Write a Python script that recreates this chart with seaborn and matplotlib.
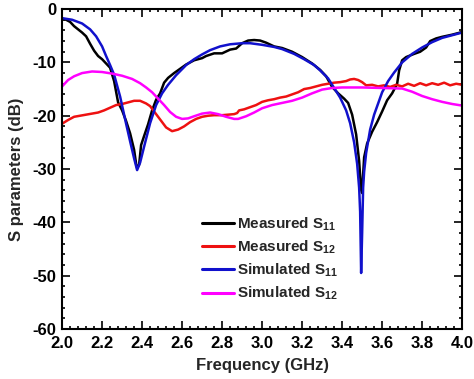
import matplotlib as mpl
import matplotlib.pyplot as plt
import numpy as np
import pandas as pd
import seaborn as sns

sns.set_theme(style="ticks")
plt.rcParams["font.family"] = ["Liberation Sans", "DejaVu Sans"]
plt.rcParams["font.weight"] = "bold"
plt.rcParams["axes.labelweight"] = "bold"
plt.rcParams["axes.unicode_minus"] = False
plt.rcParams["mathtext.fontset"] = "custom"
plt.rcParams["mathtext.rm"] = "Liberation Sans:bold"
plt.rcParams["mathtext.bf"] = "Liberation Sans:bold"
plt.rcParams["mathtext.default"] = "bf"

# measured S11
f_ms11 = [2.00, 2.02, 2.04, 2.06, 2.08, 2.10, 2.12, 2.14, 2.16, 2.18, 2.20, 2.22, 2.24, 2.26,
          2.28, 2.30, 2.32, 2.34, 2.36, 2.37, 2.375, 2.385, 2.395, 2.41, 2.43, 2.45, 2.47,
          2.49, 2.51, 2.53, 2.56, 2.59, 2.62, 2.66, 2.70, 2.72, 2.76, 2.80, 2.84, 2.87, 2.90,
          2.93, 2.96, 2.99, 3.02, 3.06, 3.10, 3.15, 3.20, 3.25, 3.29, 3.32, 3.35, 3.38, 3.41,
          3.43, 3.45, 3.47, 3.485, 3.495, 3.50, 3.505, 3.51, 3.525, 3.55, 3.575, 3.60, 3.625,
          3.65, 3.675, 3.685, 3.70, 3.72, 3.76, 3.79, 3.82, 3.84, 3.87, 3.90, 3.95, 4.00]
s_ms11 = [-1.8, -2.0, -2.4, -3.2, -3.8, -4.4, -5.1, -6.5, -7.8, -8.8, -9.4, -10.2, -11.0, -13.5,
          -17.5, -19.0, -21.0, -23.3, -26.4, -29.0, -29.8, -29.2, -25.5, -23.8, -21.6, -19.0, -17.0,
          -15.8, -13.8, -12.9, -12.0, -11.2, -10.4, -9.6, -9.2, -8.8, -8.3, -8.3, -7.6, -7.4, -6.4,
          -5.9, -5.8, -5.9, -6.3, -7.0, -7.3, -8.0, -9.0, -10.2, -11.4, -12.6, -14.6, -15.8, -16.8,
          -17.6, -19.8, -23.5, -28.5, -33.9, -34.5, -31.0, -27.8, -25.2, -23.0, -21.2, -19.2, -17.1,
          -15.8, -14.0, -11.5, -9.6, -9.0, -8.4, -8.0, -7.2, -6.0, -5.5, -5.2, -4.8, -4.3]

# measured S12
f_ms12 = [2.00, 2.03, 2.06, 2.09, 2.12, 2.15, 2.18, 2.21, 2.24, 2.27, 2.30, 2.33, 2.36, 2.39,
          2.42, 2.44, 2.46, 2.48, 2.50, 2.52, 2.55, 2.58, 2.61, 2.64, 2.67, 2.70, 2.73, 2.76,
          2.80, 2.83, 2.86, 2.875, 2.885, 2.91, 2.94, 2.97, 3.00, 3.03, 3.06, 3.09, 3.12, 3.15,
          3.18, 3.21, 3.24, 3.27, 3.30, 3.33, 3.36, 3.39, 3.42, 3.44, 3.46, 3.48, 3.50, 3.52,
          3.55, 3.58, 3.61, 3.64, 3.67, 3.70, 3.73, 3.76, 3.79, 3.82, 3.85, 3.88, 3.91, 3.94,
          3.97, 4.00]
s_ms12 = [-21.5, -20.8, -20.2, -20.0, -19.8, -19.6, -19.4, -19.0, -18.5, -18.0, -17.8, -17.5, -17.2, -17.2,
          -17.7, -18.2, -19.2, -20.2, -21.2, -22.2, -22.9, -22.6, -22.0, -21.2, -20.6, -20.2, -20.0, -19.9,
          -19.9, -19.8, -19.7, -19.5, -19.0, -18.8, -18.4, -18.0, -17.4, -17.1, -16.9, -16.6, -16.4, -16.0,
          -15.6, -15.0, -14.8, -14.5, -14.2, -14.0, -13.8, -13.7, -13.5, -13.2, -13.1, -13.3, -13.7, -14.3,
          -14.2, -14.5, -14.3, -14.6, -14.2, -14.5, -14.0, -14.4, -13.9, -14.3, -13.9, -14.2, -13.8, -14.3,
          -14.0, -14.2]

# simulated S11
f_ss11 = [2.00, 2.05, 2.10, 2.14, 2.17, 2.20, 2.22, 2.24, 2.26, 2.29, 2.32, 2.34, 2.36, 2.375,
          2.39, 2.41, 2.44, 2.47, 2.50, 2.53, 2.57, 2.62, 2.66, 2.70, 2.74, 2.79, 2.84, 2.90,
          2.94, 3.00, 3.06, 3.10, 3.16, 3.21, 3.26, 3.29, 3.33, 3.36, 3.39, 3.42, 3.44, 3.46,
          3.475, 3.485, 3.49, 3.495, 3.50, 3.505, 3.51, 3.52, 3.54, 3.56, 3.60, 3.63, 3.66,
          3.70, 3.75, 3.80, 3.85, 3.90, 3.95, 4.00]
s_ss11 = [-1.7, -2.0, -2.7, -3.8, -5.1, -7.0, -8.8, -10.5, -12.3, -16.4, -21.5, -24.8, -28.0, -30.2,
          -28.8, -25.8, -21.4, -18.0, -15.8, -14.2, -12.4, -10.5, -9.4, -8.5, -7.7, -7.0, -6.6, -6.4,
          -6.4, -6.7, -7.1, -7.5, -8.4, -9.4, -10.5, -11.5, -13.0, -14.8, -16.6, -19.0, -21.4, -25.0,
          -29.0, -33.5, -38.0, -49.5, -42.0, -33.5, -30.5, -27.0, -22.6, -19.8, -15.6, -13.5, -11.9,
          -10.0, -8.4, -7.2, -6.2, -5.4, -4.9, -4.4]

# simulated S12
f_ss12 = [2.00, 2.03, 2.06, 2.10, 2.15, 2.20, 2.25, 2.30, 2.35, 2.39, 2.42, 2.45, 2.48, 2.51,
          2.54, 2.57, 2.60, 2.63, 2.66, 2.70, 2.74, 2.78, 2.82, 2.86, 2.88, 2.92, 2.96, 3.00,
          3.05, 3.10, 3.15, 3.20, 3.25, 3.30, 3.35, 3.40, 3.50, 3.60, 3.70, 3.75, 3.80, 3.85,
          3.90, 3.95, 4.00]
s_ss12 = [-14.5, -13.3, -12.6, -12.0, -11.7, -11.8, -12.1, -12.5, -13.1, -13.9, -14.7, -15.6, -16.8, -18.0,
          -19.3, -20.2, -20.6, -20.5, -20.1, -19.6, -19.4, -19.7, -20.2, -20.6, -20.6, -20.1, -19.4, -18.6,
          -18.0, -17.6, -17.2, -16.6, -15.8, -15.1, -14.8, -14.7, -14.7, -14.8, -14.9, -15.5, -16.3, -16.9,
          -17.4, -17.8, -18.1]

series = [
    ("Measured S$_{11}$", f_ms11, s_ms11, "black"),
    ("Measured S$_{12}$", f_ms12, s_ms12, "#ee1111"),
    ("Simulated S$_{11}$", f_ss11, s_ss11, "#1111cc"),
    ("Simulated S$_{12}$", f_ss12, s_ss12, "#ff00ff"),
]

fig = plt.figure(figsize=(4.74, 3.79), dpi=100)
ax = fig.add_axes([0.131, 0.132, 0.844, 0.844])

for name, f, s, c in series:
    df = pd.DataFrame({"f": f, "s": s})
    sns.lineplot(data=df, x="f", y="s", color=c, lw=1.8, label=name, ax=ax, sort=False)

ax.set_xlim(2.0, 4.0)
ax.set_ylim(-60, 0)
ax.set_xticks(np.arange(2.0, 4.01, 0.2))
ax.set_yticks(np.arange(-60, 1, 10))
ax.xaxis.set_minor_locator(mpl.ticker.MultipleLocator(0.04))
ax.yaxis.set_minor_locator(mpl.ticker.MultipleLocator(2))
ax.xaxis.set_major_formatter(mpl.ticker.FormatStrFormatter("%.1f"))
ax.tick_params(which="both", direction="in", top=True, right=True, width=1.2,
               labelsize=12, colors="black")
ax.tick_params(axis="x", pad=5)
ax.tick_params(axis="y", pad=4)
ax.tick_params(which="major", length=5.5)
ax.tick_params(which="minor", length=2.5)
for sp in ax.spines.values():
    sp.set_linewidth(1.5)
    sp.set_color("black")

ax.set_xlabel("Frequency (GHz)", fontsize=12, fontweight="bold", labelpad=5)
ax.set_ylabel("S parameters (dB)", fontsize=12, fontweight="bold", labelpad=6)

leg = ax.legend(loc="upper left", bbox_to_anchor=(0.35, 0.355), frameon=False,
                fontsize=11, handlelength=2.1, handletextpad=0.2, labelspacing=0.38,
                borderpad=0, borderaxespad=0)
for line in leg.get_lines():
    line.set_linewidth(2.2)

fig.savefig("out.png", dpi=100)
